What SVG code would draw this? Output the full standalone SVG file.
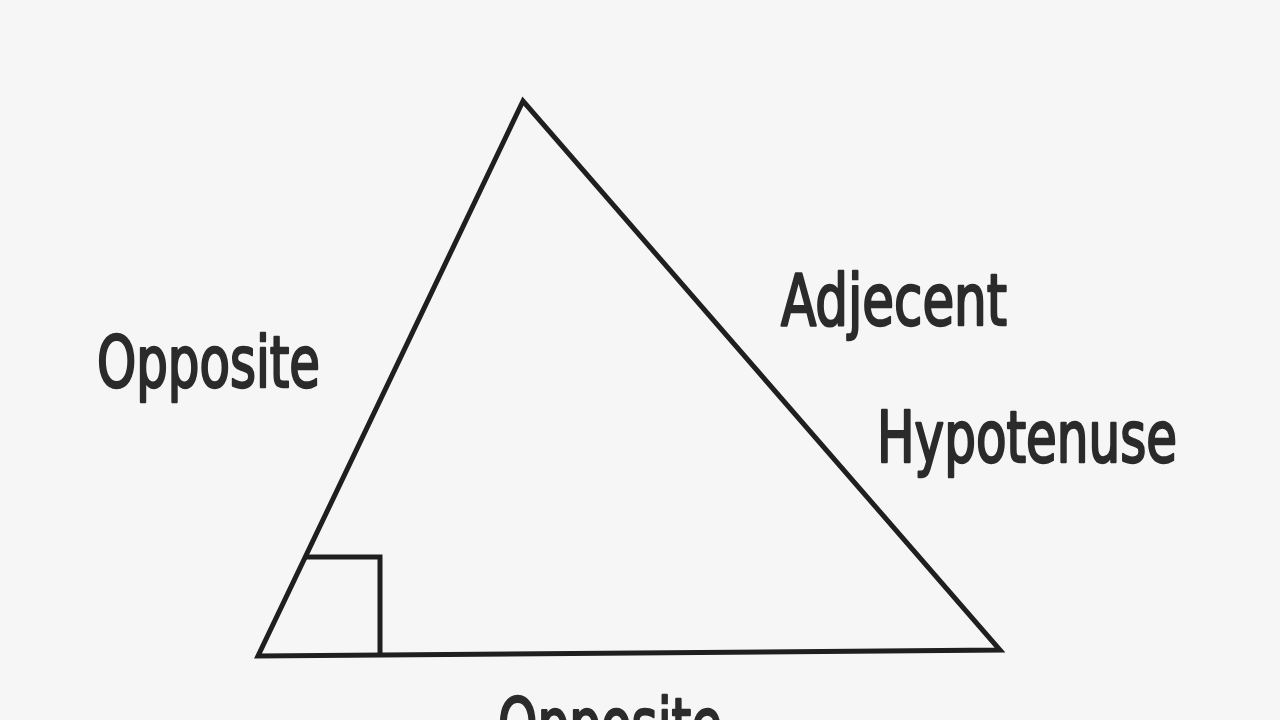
<svg xmlns="http://www.w3.org/2000/svg" width="1280" height="720" viewBox="0 0 1280 720">
<style>
.lbl{font-family:"DejaVu Sans Condensed","DejaVu Sans","Liberation Sans",sans-serif;font-weight:normal;font-size:72px;fill:#2b2b2b;stroke:#2b2b2b;stroke-width:2.4;stroke-linejoin:round}
.ln{fill:none;stroke:#1f1f1f;stroke-width:5;stroke-linejoin:miter}
</style>
<rect width="1280" height="720" fill="#f6f6f6"/>
<g id="triangle">
<polygon class="ln" points="523,101 258,656 1000,650"/>
</g>
<g id="right-angle">
<polyline class="ln" points="306,557 380,557 380,655"/>
</g>
<g id="labels">
<text id="opposite-left" class="lbl" x="97" y="387" textLength="223" lengthAdjust="spacingAndGlyphs">Opposite</text>
<text id="adjecent" class="lbl" x="781" y="325" textLength="226" lengthAdjust="spacingAndGlyphs">Adjecent</text>
<text id="hypotenuse" class="lbl" x="877" y="462" textLength="300" lengthAdjust="spacingAndGlyphs">Hypotenuse</text>
<text id="opposite-bottom" class="lbl" x="498" y="749" textLength="224" lengthAdjust="spacingAndGlyphs">Opposite</text>
</g>
</svg>
